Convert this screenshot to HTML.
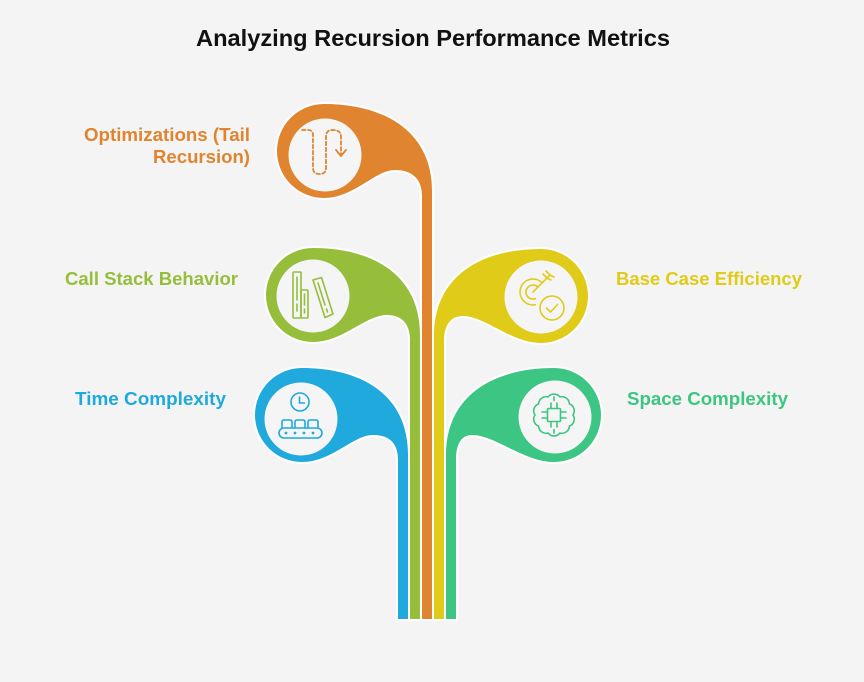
<!DOCTYPE html>
<html>
<head>
<meta charset="utf-8">
<style>
  html, body { margin:0; padding:0; background:#f4f4f4; }
  svg { display:block; }
  text { font-family: "Liberation Sans", Arial, sans-serif; font-weight:bold; }
</style>
</head>
<body>
<svg width="864" height="682" viewBox="0 0 864 682" xmlns="http://www.w3.org/2000/svg">
  <rect x="0" y="0" width="864" height="682" fill="#f4f4f4"/>

  <!-- Title -->
  <text x="196" y="46" font-size="23" fill="#111111" textLength="474" lengthAdjust="spacingAndGlyphs">Analyzing Recursion Performance Metrics</text>

  <!-- Labels -->
  <text x="84" y="141" font-size="18.5" fill="#E0842F" textLength="166" lengthAdjust="spacingAndGlyphs">Optimizations (Tail</text>
  <text x="153" y="163" font-size="18.5" fill="#E0842F" textLength="97" lengthAdjust="spacingAndGlyphs">Recursion)</text>
  <text x="65" y="285" font-size="18.5" fill="#96BE3B" textLength="173" lengthAdjust="spacingAndGlyphs">Call Stack Behavior</text>
  <text x="75" y="405" font-size="18.5" fill="#1FA9DC" textLength="151" lengthAdjust="spacingAndGlyphs">Time Complexity</text>
  <text x="616" y="285" font-size="18.5" fill="#E0CB19" textLength="186" lengthAdjust="spacingAndGlyphs">Base Case Efficiency</text>
  <text x="627" y="405" font-size="18.5" fill="#3DC583" textLength="161" lengthAdjust="spacingAndGlyphs">Space Complexity</text>

  <g stroke="#ffffff" stroke-width="4" paint-order="stroke" stroke-linejoin="round">
    <!-- Blue (Time Complexity) -->
    <path fill="#1FA9DC" d="M 398,619 L 398,460 C 398,443 389,435 373,435 C 353,435 332,462 302,462 A 47 47 0 0 1 255,415 A 47 47 0 0 1 302,368 C 362,368 408,395 408,455 L 408,619 Z"/>
    <!-- Teal (Space Complexity) -->
    <path fill="#3DC583" d="M 456,619 L 456,460 C 456,443 462,435 472,435 C 495,435 524,462 554,462 A 47 47 0 0 0 601,415 A 47 47 0 0 0 554,368 C 494,368 446,395 446,455 L 446,619 Z"/>
    <!-- Green (Call Stack) -->
    <path fill="#96BE3B" d="M 410,619 L 410,340 C 410,323 401,315 387,315 C 365,315 343,342 313,342 A 47 47 0 0 1 266,295 A 47 47 0 0 1 313,248 C 373,248 420,275 420,335 L 420,619 Z"/>
    <!-- Yellow (Base Case) -->
    <path fill="#E0CB19" d="M 444,619 L 444,341 C 444,326 450,316 463,316 C 485,316 511,343 541,343 A 47 47 0 0 0 588,296 A 47 47 0 0 0 541,249 C 481,249 434,276 434,336 L 434,619 Z"/>
    <!-- Orange (Optimizations) -->
    <path fill="#E0842F" d="M 422,619 L 422,196 C 422,179 412,170 395,170 C 375,170 354,198 324,198 A 47 47 0 0 1 277,151 A 47 47 0 0 1 324,104 C 384,104 432,131 432,191 L 432,619 Z"/>
  </g>

  <!-- Inner circles -->
  <g fill="#f5f5f5">
    <circle cx="325" cy="155" r="36.5"/>
    <circle cx="313" cy="296" r="36.5"/>
    <circle cx="301" cy="419" r="36.5"/>
    <circle cx="541" cy="297" r="36.5"/>
    <circle cx="555" cy="417" r="36.5"/>
  </g>

  <!-- Orange icon: dashed recursion path -->
  <g fill="none" stroke="#E0842F" stroke-width="1.8" stroke-linecap="round" stroke-linejoin="round">
    <path stroke-dasharray="3.5 2.5" d="M 302,130 L 308,130 Q 313,130 313,135 L 313,168 Q 313,174 319.5,174 Q 326,174 326,168 L 326,136 Q 326,130 333,130 Q 341,130 341,137 L 341,155"/>
    <path d="M 336,150 L 341,156 L 346,150"/>
  </g>

  <!-- Green icon: binders -->
  <g fill="none" stroke="#96BE3B" stroke-width="1.6" stroke-linejoin="round" stroke-linecap="round">
    <rect x="293" y="272" width="8" height="46" rx="1"/>
    <path d="M 297,277 L 297,300 M 297,304 L 297,311"/>
    <rect x="301" y="290" width="7" height="28" rx="1"/>
    <path d="M 304.5,294 L 304.5,305 M 304.5,309 L 304.5,313"/>
    <path d="M 313,280 L 321.5,277.5 L 333,314 L 325,317.5 Z"/>
    <path d="M 318,283 L 325,305 M 326.5,309 L 327.5,312"/>
  </g>

  <!-- Blue icon: clock + conveyor -->
  <g fill="none" stroke="#1FA9DC" stroke-width="1.6" stroke-linejoin="round" stroke-linecap="round">
    <circle cx="300" cy="402" r="9"/>
    <path d="M 299.5,397 L 299.5,403 L 304.5,403"/>
    <path d="M 282,428 L 282,422 Q 282,420 284,420 L 290,420 Q 292,420 292,422 L 292,428"/>
    <path d="M 295,428 L 295,422 Q 295,420 297,420 L 303,420 Q 305,420 305,422 L 305,428"/>
    <path d="M 308,428 L 308,422 Q 308,420 310,420 L 316,420 Q 318,420 318,422 L 318,428"/>
    <rect x="279" y="428" width="43" height="10" rx="5"/>
  </g>
  <g fill="#1FA9DC">
    <circle cx="286" cy="433" r="1.4"/>
    <circle cx="295" cy="433" r="1.4"/>
    <circle cx="304" cy="433" r="1.4"/>
    <circle cx="313" cy="433" r="1.4"/>
  </g>

  <!-- Yellow icon: target + check -->
  <g fill="none" stroke="#E0CB19" stroke-width="1.6" stroke-linejoin="round" stroke-linecap="round">
    <path d="M 542.2,282.8 A 13 13 0 1 0 535.3,304.8"/>
    <path d="M 537.9,287.1 A 7 7 0 1 0 535.4,298.6"/>
    <path d="M 533,292 L 549,276"/>
    <path d="M 543,274 L 547,278 L 551,280"/>
    <path d="M 546,271 L 550,275 L 554,277"/>
    <circle cx="552" cy="308" r="12"/>
    <path d="M 546.5,308 L 550.5,312 L 557.5,304.5"/>
  </g>

  <!-- Teal icon: brain with chip -->
  <g fill="none" stroke="#3DC583" stroke-width="1.6" stroke-linejoin="round" stroke-linecap="round">
    <path d="M 573,415 A 7.5 7.5 0 0 1 569.37,426.17 A 7.5 7.5 0 0 1 559.87,433.07 A 7.5 7.5 0 0 1 548.13,433.07 A 7.5 7.5 0 0 1 538.63,426.17 A 7.5 7.5 0 0 1 535,415 A 7.5 7.5 0 0 1 538.63,403.83 A 7.5 7.5 0 0 1 548.13,396.93 A 7.5 7.5 0 0 1 559.87,396.93 A 7.5 7.5 0 0 1 569.37,403.83 A 7.5 7.5 0 0 1 573,415 Z"/>
    <rect x="547.5" y="408.5" width="13" height="13" rx="1"/>
    <path d="M 551,408.5 L 551,403 M 557,408.5 L 557,403 M 551,421.5 L 551,427 M 557,421.5 L 557,427 M 547.5,412 L 542,412 M 547.5,418 L 542,418 M 560.5,412 L 566,412 M 560.5,418 L 566,418"/>
    <path d="M 554,397 L 554,400.5 M 554,433 L 554,429.5"/>
  </g>
</svg>
</body>
</html>
